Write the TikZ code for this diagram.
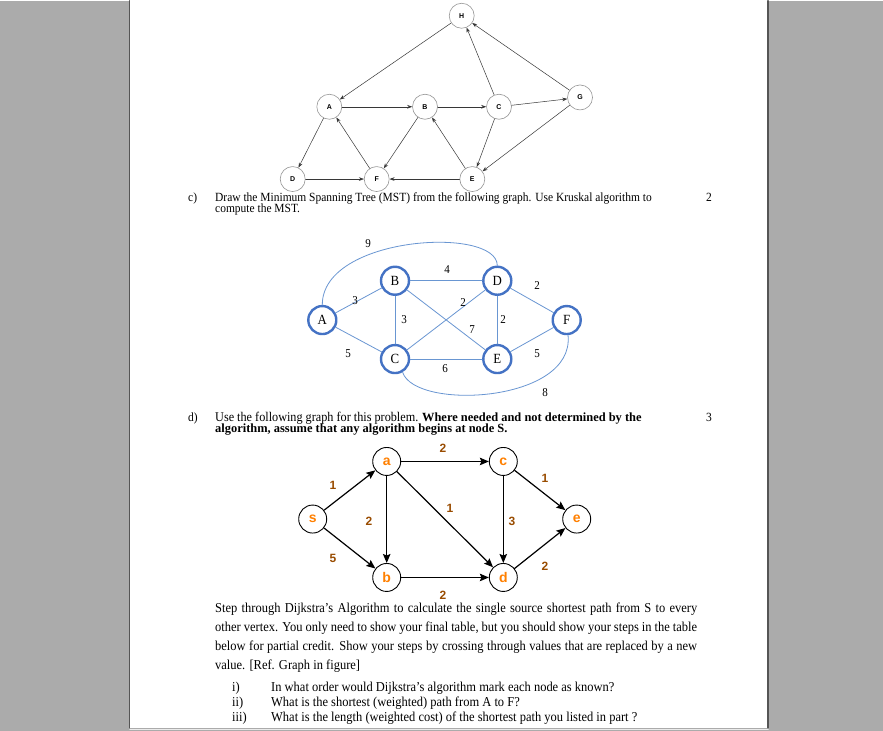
\documentclass[tikz,border=0pt]{standalone}
\usepackage{fontspec}
\setmainfont{Liberation Serif}[FakeStretch=0.918, BoldFeatures={FakeStretch=0.995}]
\newfontfamily\sansfnt{Liberation Sans}
\usetikzlibrary{arrows.meta}
\definecolor{deskgray}{RGB}{171,171,171}
\definecolor{rimgray}{RGB}{85,85,85}
\definecolor{vtxrim}{RGB}{150,150,150}
\definecolor{arcgray}{RGB}{55,55,55}
\definecolor{mstrim}{RGB}{68,114,196}
\definecolor{mstline}{RGB}{105,150,210}
\definecolor{dorange}{RGB}{255,128,0}
\definecolor{dbrown}{RGB}{153,76,0}
\tikzset{
    txt/.style={
        font=\fontsize{12.5}{14}\selectfont, inner sep=0pt, anchor=base west
    },
    bodytxt/.style={
        font=\fontsize{13.6}{15}\selectfont, inner sep=0pt, anchor=base west
    }
}

\begin{document}
\begin{tikzpicture}[x=1pt,y=-1pt, line cap=round, line join=round]

% background
\fill[deskgray] (0,0) rectangle (883,730);
\fill[white] (130,0) rectangle (768,727);
\draw[rimgray, line width=1.5pt] (129.5,0) -- (129.5,727);
\draw[rimgray, line width=1.5pt] (768,0) -- (768,727);
\draw[black!8, line width=1.5pt] (130,728.5) -- (768,728.5);
\useasboundingbox (0,0) rectangle (883,730);

\tikzset{
  hvtx/.style={circle, draw=vtxrim, fill=white, line width=0.6pt, minimum size=25pt, inner sep=0pt,
    font=\sansfnt\bfseries\fontsize{7}{8}\selectfont},
  harc/.style={draw=arcgray, line width=0.5pt, -{Stealth[length=5pt,width=3.6pt]}},
  kvtx/.style={circle, draw=mstrim, fill=white, line width=2.4pt, minimum size=28pt, inner sep=0pt,
    font=\fontsize{14}{16}\selectfont},
  kedge/.style={draw=mstline, line width=0.8pt},
  kwt/.style={font=\fontsize{12}{14}\selectfont, inner sep=0pt},
  dvtx/.style={circle, draw=black, fill=white, line width=0.9pt, minimum size=28pt, inner sep=0pt,
    font=\sansfnt\bfseries\fontsize{14}{16}\selectfont, text=dorange},
  darc/.style={draw=black, line width=1.2pt, -{Stealth[length=9pt,width=7.5pt,inset=1.5pt]}},
  dwt/.style={font=\sansfnt\bfseries\fontsize{12}{14}\selectfont, text=dbrown, inner sep=0pt},
}

% top graph: nodes
\node[hvtx] (hH) at (461.7,15) {H};
\node[hvtx] (hA) at (329.3,106) {A};
\node[hvtx] (hB) at (425,106) {B};
\node[hvtx] (hC) at (499,106) {C};
\node[hvtx] (hG) at (580,96.7) {G};
\node[hvtx] (hD) at (292.7,178.3) {D};
\node[hvtx] (hF) at (376.7,178.3) {F};
\node[hvtx] (hE) at (472.3,178.3) {E};

% top graph: arcs
\draw[harc] (hH) -- (hA);
\draw[harc] (hA) -- (hB);
\draw[harc] (hB) -- (hC);
\draw[harc] (hC) -- (hG);
\draw[harc] (hC) -- (hH);
\draw[harc] (hG) -- (hH);
\draw[harc] (hA) -- (hD);
\draw[harc] (hF) -- (hA);
\draw[harc] (hB) -- (hF);
\draw[harc] (hE) -- (hB);
\draw[harc] (hC) -- (hE);
\draw[harc] (hG) -- (hE);
\draw[harc] (hD) -- (hF);
\draw[harc] (hE) -- (hF);

% part c
\node[txt] (cnum) at (188,201) {c)};
\node[txt] (cl1) at (215,201) {Draw the Minimum Spanning Tree (MST) from the following graph. Use Kruskal algorithm to};
\node[txt] (cl2) at (215,212) {compute the MST.};
\node[txt] (cmark) at (706,201) {2};

% Kruskal graph: nodes
\node[kvtx] (kA) at (322.3,319.3) {A};
\node[kvtx] (kB) at (395,280) {B};
\node[kvtx] (kD) at (497.3,280) {D};
\node[kvtx] (kF) at (566.7,319.3) {F};
\node[kvtx] (kC) at (395,358.3) {C};
\node[kvtx] (kE) at (497.3,358.3) {E};

% Kruskal graph: edges
\draw[kedge] (kA) -- (kB);
\draw[kedge] (kA) -- (kC);
\draw[kedge] (kB) -- (kD);
\draw[kedge] (kB) -- (kC);
\draw[kedge] (kB) -- (kE);
\draw[kedge] (kC) -- (kD);
\draw[kedge] (kC) -- (kE);
\draw[kedge] (kD) -- (kE);
\draw[kedge] (kD) -- (kF);
\draw[kedge] (kE) -- (kF);
\draw[kedge] (kA.north) .. controls (322,235) and (497,225) .. (kD.north);
\draw[kedge] (kC.-60) .. controls (415,410) and (575,402) .. (kF.-85);

% Kruskal graph: weights
\node[kwt] (w9) at (368,243) {9};
\node[kwt] (w4) at (447,269) {4};
\node[kwt] (wdf) at (537,285) {2};
\node[kwt] (wab) at (355,300) {3};
\node[kwt] (wcd) at (463,302) {2};
\node[kwt] (wbc) at (404,319) {3};
\node[kwt] (wde) at (503,319) {2};
\node[kwt] (wbe) at (472,329) {7};
\node[kwt] (wac) at (348,353) {5};
\node[kwt] (wce) at (445,368) {6};
\node[kwt] (wef) at (537,353) {5};
\node[kwt] (w8) at (545,392) {8};

% part d
\node[txt] (dnum) at (188,421) {d)};
\node[txt] (dl1) at (215,421) {{\fontsize{13.3}{14}\selectfont Use the following graph for this problem.} \textbf{Where needed and not determined by the}};
\node[txt] (dl2) at (215,432) {\textbf{algorithm, assume that any algorithm begins at node S.}};
\node[txt] (dmark) at (706,421) {3};

% Dijkstra graph: nodes
\node[dvtx] (ds) at (312.7,518.3) {s};
\node[dvtx] (da) at (386.7,460.7) {a};
\node[dvtx] (dc) at (503.3,460.7) {c};
\node[dvtx] (de) at (576.7,518.3) {e};
\node[dvtx] (db) at (386.7,576.7) {b};
\node[dvtx] (dd) at (503.3,576.7) {d};

% Dijkstra graph: arcs
\draw[darc] (ds) -- (da);
\draw[darc] (ds) -- (db);
\draw[darc] (da) -- (dc);
\draw[darc] (da) -- (db);
\draw[darc] (da) -- (dd);
\draw[darc] (dc) -- (dd);
\draw[darc] (dc) -- (de);
\draw[darc] (db) -- (dd);
\draw[darc] (dd) -- (de);

% Dijkstra graph: weights
\node[dwt] (vsa) at (333,485) {1};
\node[dwt] (vsb) at (333,558) {5};
\node[dwt] (vac) at (443,448) {2};
\node[dwt] (vab) at (369,521) {2};
\node[dwt] (vad) at (450,508) {1};
\node[dwt] (vcd) at (512,521) {3};
\node[dwt] (vce) at (545,478) {1};
\node[dwt] (vde) at (545,566) {2};
\node[dwt] (vbd) at (443,595) {2};

% steps text
\node[bodytxt] (p1) at (215,612) {\makebox[482pt][s]{Step through Dijkstra’s Algorithm to calculate the single source shortest path from S to every}};
\node[bodytxt] (p2) at (215,631) {\makebox[482pt][s]{other vertex. You only need to show your final table, but you should show your steps in the table}};
\node[bodytxt] (p3) at (215,650) {\makebox[482pt][s]{below for partial credit. Show your steps by crossing through values that are replaced by a new}};
\node[bodytxt] (p4) at (215,669) {value. [Ref. Graph in figure]};

% questions
\node[bodytxt] (q1n) at (232,691) {i)};
\node[bodytxt] (q1) at (271,691) {In what order would Dijkstra’s algorithm mark each node as known?};
\node[bodytxt] (q2n) at (232,706) {ii)};
\node[bodytxt] (q2) at (271,706) {What is the shortest (weighted) path from A to F?};
\node[bodytxt] (q3n) at (232,721) {iii)};
\node[bodytxt] (q3) at (271,721) {What is the length (weighted cost) of the shortest path you listed in part ?};

\end{tikzpicture}
\end{document}
